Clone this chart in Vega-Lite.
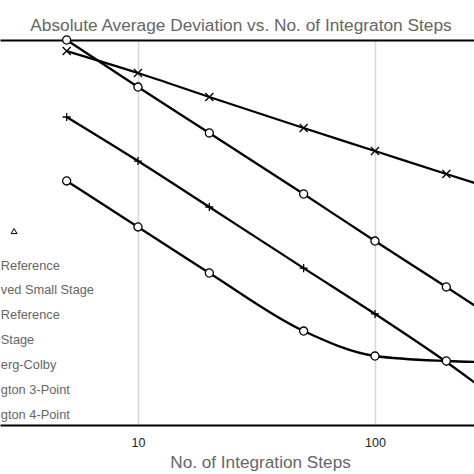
{
  "$schema": "https://vega.github.io/schema/vega-lite/v6.json",
  "width": 474,
  "height": 385,
  "autosize": {"type": "none"},
  "padding": {"left": 0, "top": 40, "right": 0, "bottom": 49},
  "background": "white",
  "title": {
    "text": "Absolute Average Deviation vs. No. of Integraton Steps",
    "font": "Liberation Sans",
    "fontSize": 17.3,
    "fontWeight": "normal",
    "color": "#666666",
    "dx": 4,
    "offset": -1
  },
  "config": {"view": {"stroke": null}, "font": "Liberation Sans"},
  "data": {
    "values": [
      {"method": "ved Small Stage", "steps": 5, "aad": 1.0},
      {"method": "ved Small Stage", "steps": 10, "aad": 0.245},
      {"method": "ved Small Stage", "steps": 20, "aad": 0.062},
      {"method": "ved Small Stage", "steps": 50, "aad": 0.01},
      {"method": "ved Small Stage", "steps": 100, "aad": 0.00245},
      {"method": "ved Small Stage", "steps": 200, "aad": 0.00062},
      {"method": "ved Small Stage", "steps": 500, "aad": 0.000097},
      {"method": "Reference 2", "steps": 5, "aad": 0.719},
      {"method": "Reference 2", "steps": 10, "aad": 0.373},
      {"method": "Reference 2", "steps": 20, "aad": 0.182},
      {"method": "Reference 2", "steps": 50, "aad": 0.0719},
      {"method": "Reference 2", "steps": 100, "aad": 0.0362},
      {"method": "Reference 2", "steps": 200, "aad": 0.0182},
      {"method": "Reference 2", "steps": 500, "aad": 0.0074},
      {"method": "Stage", "steps": 5, "aad": 0.1},
      {"method": "Stage", "steps": 10, "aad": 0.0268},
      {"method": "Stage", "steps": 20, "aad": 0.00678},
      {"method": "Stage", "steps": 50, "aad": 0.00109},
      {"method": "Stage", "steps": 100, "aad": 0.000277},
      {"method": "Stage", "steps": 200, "aad": 0.0000658},
      {"method": "Stage", "steps": 500, "aad": 0.0000079},
      {"method": "erg-Colby", "steps": 5, "aad": 0.01476},
      {"method": "erg-Colby", "steps": 10, "aad": 0.00373},
      {"method": "erg-Colby", "steps": 20, "aad": 0.000942},
      {"method": "erg-Colby", "steps": 50, "aad": 0.000166},
      {"method": "erg-Colby", "steps": 100, "aad": 0.0000787},
      {"method": "erg-Colby", "steps": 200, "aad": 0.0000678},
      {"method": "erg-Colby", "steps": 500, "aad": 0.0000638},
      {"method": "Reference", "steps": 3, "aad": 0.0033}
    ]
  },
  "layer": [
    {
      "mark": {"type": "line", "interpolate": "monotone", "color": "black", "strokeWidth": 2.3},
      "encoding": {
        "x": {
          "field": "steps",
          "type": "quantitative",
          "scale": {"type": "log", "domain": [2.617, 261.7], "nice": false},
          "axis": {
            "values": [10, 100],
            "format": "d",
            "ticks": false,
            "domainColor": "black",
            "domainWidth": 2,
            "gridColor": "#d6d6d6",
            "gridWidth": 1.5,
            "labelFontSize": 12.5,
            "labelColor": "#222222",
            "labelPadding": 11,
            "title": "No. of Integration Steps",
            "titleFontSize": 17.2,
            "titleFontWeight": "normal",
            "titleColor": "#666666",
            "titleX": 260,
            "titleAlign": "center",
            "titlePadding": 5
          }
        },
        "y": {
          "field": "aad",
          "type": "quantitative",
          "scale": {"type": "log", "domain": [0.00001, 1], "nice": false},
          "axis": {
            "values": [0.00001, 0.0001, 0.001, 0.01, 0.1, 1],
            "labels": false,
            "ticks": false,
            "domain": false,
            "title": null,
            "gridColor": "#d6d6d6",
            "gridWidth": 1.5
          }
        },
        "detail": {"field": "method"}
      }
    },
    {
      "transform": [{"filter": "datum.method != 'Reference'"}],
      "mark": {"type": "point", "filled": false, "fill": "white", "stroke": "black", "strokeWidth": 1.3, "opacity": 1, "size": 65},
      "encoding": {
        "x": {
          "field": "steps",
          "type": "quantitative",
          "axis": {
            "orient": "top",
            "labels": false,
            "ticks": false,
            "grid": false,
            "domainColor": "black",
            "domainWidth": 2,
            "title": null
          }
        },
        "y": {"field": "aad", "type": "quantitative", "axis": null},
        "shape": {
          "field": "method",
          "scale": {
            "domain": ["Reference", "ved Small Stage", "Reference 2", "Stage", "erg-Colby", "gton 3-Point", "gton 4-Point"],
            "range": ["triangle-up", "circle", "M-1,-1L1,1M-1,1L1,-1", "M-1,0L1,0M0,-1L0,1", "circle", "diamond", "square"]
          },
          "legend": {
            "orient": "none",
            "legendX": -16,
            "legendY": 220,
            "title": null,
            "labelFont": "Liberation Sans",
            "labelFontSize": 12.8,
            "labelColor": "#666666",
            "rowPadding": 8,
            "labelExpr": "replace(datum.label, ' 2', '')"
          }
        }
      }
    },
    {
      "transform": [{"filter": "datum.method == 'Reference'"}],
      "mark": {"type": "point", "shape": "triangle-up", "filled": false, "fill": "white", "stroke": "black", "strokeWidth": 1, "opacity": 1, "size": 35},
      "encoding": {
        "x": {"field": "steps", "type": "quantitative", "axis": null},
        "y": {"field": "aad", "type": "quantitative", "axis": null}
      }
    }
  ],
  "resolve": {"axis": {"x": "independent"}}
}
